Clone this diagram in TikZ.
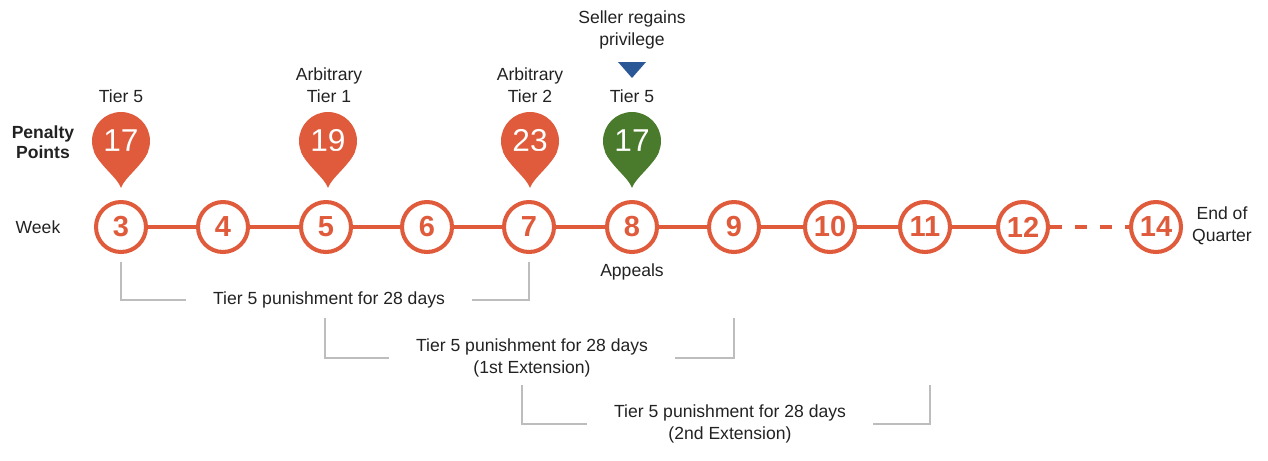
\documentclass[tikz,border=0pt]{standalone}
\usepackage{fontspec}
\setmainfont{Liberation Sans}
\usepackage{xcolor}
\usepackage{tikz}

\definecolor{penred}{HTML}{DF5B3B}
\definecolor{pengreen}{HTML}{4A7A2B}
\definecolor{penblue}{HTML}{2A5896}
\definecolor{ink}{HTML}{222222}
\definecolor{rule}{HTML}{BDBDBD}

\begin{document}
\begin{tikzpicture}[x=0.02cm, y=-0.02cm,
    week/.style={circle, draw=penred, line width=2.3pt, fill=white, minimum size=1cm,
        inner sep=0pt, text=penred, font=\fontsize{16.5}{16.5}\selectfont\bfseries},
    track/.style={draw=penred, line width=2.3pt},
    pin/.style={circle, minimum size=1.16cm, inner sep=0pt, outer sep=0pt,
        text=white, font=\fontsize{18}{18}\selectfont},
    lbl/.style={text=ink, align=center, inner sep=0pt, font=\fontsize{10}{12.5}\selectfont},
    span/.style={lbl, inner xsep=0.54cm},
    bracket/.style={draw=rule, line width=0.9pt}]
    \useasboundingbox (0,0) rectangle (1268,460);

    % ===== Week track =====
    \foreach \n/\x in {3/121,4/223,5/326,6/427,7/529,8/632,9/734,10/830,11/925,12/1023,14/1156} {
        \node[week] (w\n) at (\x,227) {\n};
    }
    \foreach \a/\b in {3/4,4/5,5/6,6/7,7/8,8/9,9/10,10/11,11/12} {
        \draw[track] (w\a) -- (w\b);
    }
    % gap to the end of the quarter
    \draw[track, dash pattern=on 6.8pt off 7.4pt] (w12) -- (w14);

    % ===== Penalty point pins =====
    \foreach \w/\x/\pts/\col in {3/121/17/penred, 5/328/19/penred, 7/530/23/penred, 8/632/17/pengreen} {
        \coordinate (tip\w) at (\x,188);
        \node[pin, fill=\col] (pin\w) at (\x,141) {\pts};
        \fill[\col] (pin\w.-20) .. controls +(-5,14) and +(3,-10) .. (tip\w)
            .. controls +(-3,-10) and +(5,14) .. (pin\w.-160) -- cycle;
    }

    % ===== Labels =====
    \node[lbl, font=\fontsize{10}{11.5}\selectfont\bfseries] (penalty) at (43,142) {Penalty\\Points};
    \node[lbl] (weeklbl) at (38,227) {Week};
    \node[lbl] (tier3) at (121,96) {Tier 5};
    \node[lbl] (arb1) at (329,85) {Arbitrary\\Tier 1};
    \node[lbl] (arb2) at (530,85) {Arbitrary\\Tier 2};
    \node[lbl] (tier8) at (632,96) {Tier 5};
    \node[lbl] (seller) at (632,30) {Seller regains\\privilege};
    \fill[penblue] (618,62) -- (646,62) -- (632,78) -- cycle;
    \node[lbl] (appeals) at (632,272) {Appeals};
    \node[lbl] (eoq) at (1222,226) {End of\\Quarter};

    % ===== Punishment spans =====
    \node[span] (span1) at (329,300) {Tier 5 punishment for 28 days};
    \node[span] (span2) at (532,358) {Tier 5 punishment for 28 days\\(1st Extension)};
    \node[span] (span3) at (730,424) {Tier 5 punishment for 28 days\\(2nd Extension)};
    \coordinate (s1a) at (121,262);
    \coordinate (s1b) at (529,262);
    \coordinate (s2a) at (325,318);
    \coordinate (s2b) at (734,318);
    \coordinate (s3a) at (522,385);
    \coordinate (s3b) at (930,385);
    \foreach \s in {1,2,3} {
        \draw[bracket] (s\s a) |- (span\s.west);
        \draw[bracket] (s\s b) |- (span\s.east);
    }
\end{tikzpicture}
\end{document}
